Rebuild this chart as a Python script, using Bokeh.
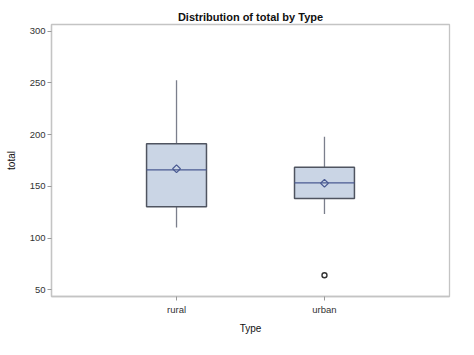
import math
from bokeh.plotting import figure
from bokeh.models import FactorRange, Range1d, ColumnDataSource
from bokeh.transform import dodge
from bokeh.embed import file_html
from bokeh.resources import INLINE

# ---- data ----
categories = ["rural", "urban"]
q1 = [130.3, 138.3]
median = [166.0, 153.3]
q3 = [191.1, 168.4]
lower_whisker = [110.2, 123.2]
upper_whisker = [252.7, 197.9]
mean = [167.0, 153.0]
outlier_cats = ["urban"]
outlier_vals = [64.1]
y_ticks = [50, 100, 150, 200, 250, 300]

FONT = "Liberation Sans"
BOX_W = 0.405

p = figure(
    width=458, height=339,
    x_range=FactorRange(factors=categories, range_padding=0.345),
    y_range=Range1d(43.5, 306.5),
    output_backend="svg", toolbar_location=None,
    title="Distribution of total by Type",
    min_border_left=51, min_border_right=9, min_border_top=24, min_border_bottom=43,
)

src = ColumnDataSource(dict(cat=categories, q1=q1, med=median, q3=q3,
                            lo=lower_whisker, hi=upper_whisker, mean=mean))

# whiskers
p.segment(x0="cat", y0="q3", x1="cat", y1="hi", source=src, line_color="#7b7f8c", line_width=1.3)
p.segment(x0="cat", y0="lo", x1="cat", y1="q1", source=src, line_color="#7b7f8c", line_width=1.3)
# boxes
p.vbar(x="cat", bottom="q1", top="q3", width=BOX_W, source=src,
       fill_color="#cad5e5", line_color="#4f5460", line_width=1.5)
# median lines
p.segment(x0=dodge("cat", -BOX_W / 2, range=p.x_range), y0="med",
          x1=dodge("cat", BOX_W / 2, range=p.x_range), y1="med",
          source=src, line_color="#4a5a92", line_width=1.2)
# means (diamond = rotated square)
p.scatter(x="cat", y="mean", source=src, marker="square", angle=math.pi / 4, size=5.5,
          fill_color=None, line_color="#4a5a92", line_width=1.2)
# outliers
p.scatter(x=outlier_cats, y=outlier_vals, marker="circle", size=5,
          fill_color=None, line_color="#333333", line_width=1.4)

# styling
p.title.text_font = FONT
p.title.text_font_size = "11px"
p.title.text_font_style = "bold"
p.title.align = "center"
p.title.text_color = "#111111"
p.title.offset = 0
p.title.standoff = 3

p.xgrid.visible = False
p.ygrid.visible = False
p.outline_line_color = "#c4c4c4"
p.outline_line_width = 1.3
p.background_fill_color = "white"
p.border_fill_color = "white"

for ax in (p.xaxis[0], p.yaxis[0]):
    ax.axis_line_color = "#c4c4c4"
    ax.axis_line_width = 1.3
    ax.major_tick_line_color = "#9a9a9a"
    ax.major_tick_out = 4
    ax.major_tick_in = 0
    ax.minor_tick_line_color = None
    ax.major_label_text_font = FONT
    ax.major_label_text_font_size = "9.5px"
    ax.major_label_text_color = "#333333"
    ax.axis_label_text_font = FONT
    ax.axis_label_text_font_size = "10px"
    ax.axis_label_text_font_style = "normal"
    ax.axis_label_text_color = "#111111"

p.yaxis.ticker = y_ticks
p.yaxis.axis_label = "total"
p.yaxis.major_label_standoff = 2
p.yaxis.axis_label_standoff = 10
p.xaxis.axis_label = "Type"
p.xaxis.major_label_standoff = 3
p.xaxis.axis_label_standoff = 5

open("out.html", "w").write(file_html(p, INLINE))
